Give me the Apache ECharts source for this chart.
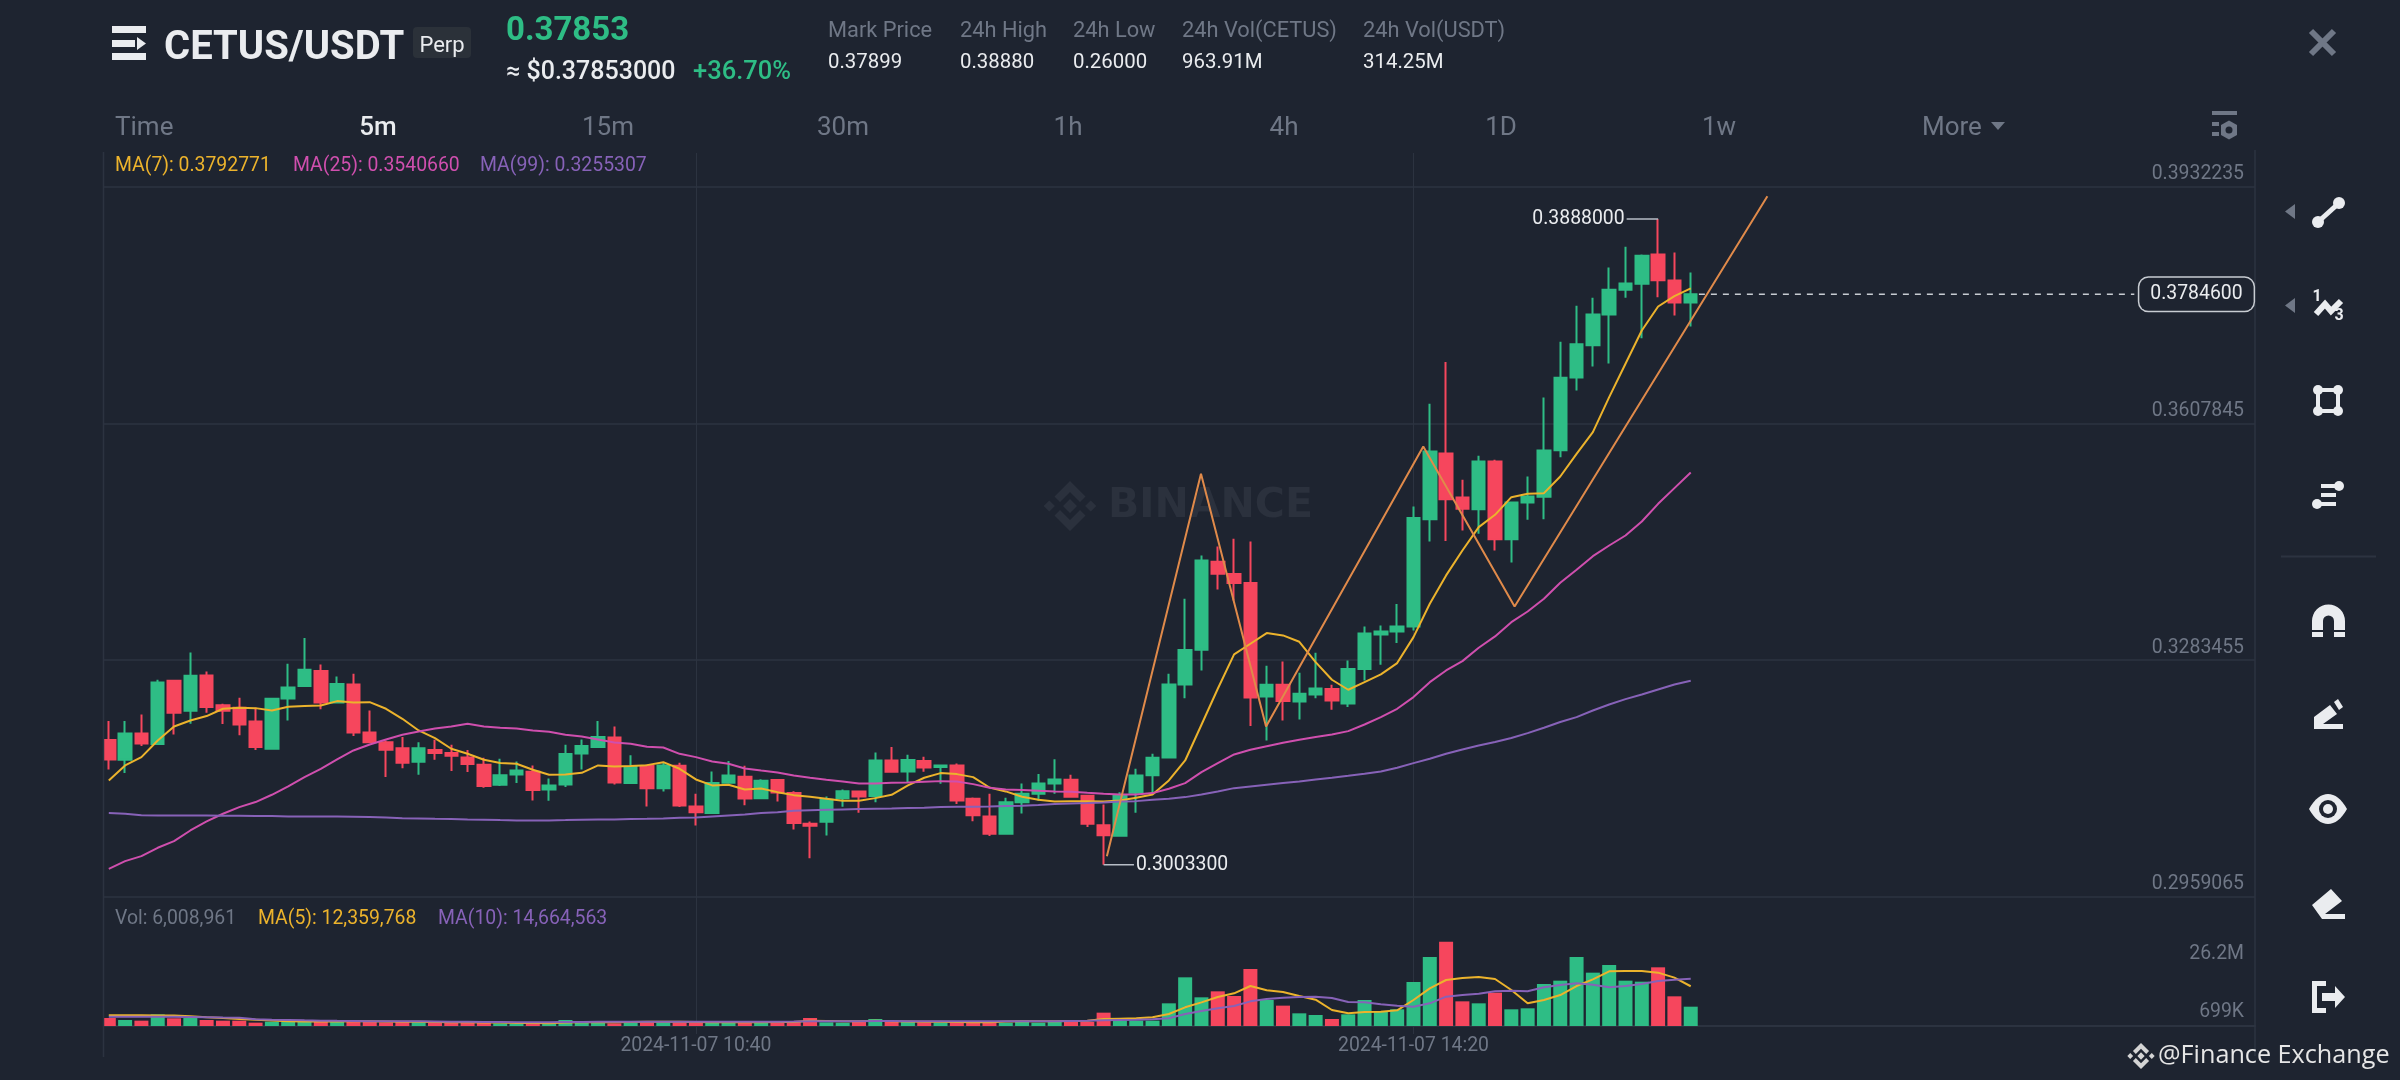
<!DOCTYPE html>
<html>
<head>
<meta charset="utf-8">
<style>html,body{margin:0;padding:0;background:#1e2430}#chart{width:2400px;height:1080px}</style>
<script src="https://cdn.jsdelivr.net/npm/echarts@6/dist/echarts.min.js"></script>
</head>
<body>
<div id="chart"></div>
<script>
const opens = [
  .31740,.31470,.31831,.31685,.32553,.32142,.32626,.32219,.32183,.31996,
  .31621,.32311,.32480,.32685,.32256,.32502,.31845,.31712,.31630,.31443,
  .31603,.31562,.31502,.31402,.31128,.31270,.31306,.31064,.31133,.31557,
  .31644,.31776,.31151,.31384,.31082,.31388,.30831,.30740,.31155,.31237,
  .30945,.31192,.31014,.30594,.30621,.30945,.31037,.30973,.31461,.31310,
  .31452,.31370,.31393,.30936,.30694,.30457,.30890,.31005,.31146,.31196,
  .30977,.30575,.30429,.31018,.31260,.31502,.32503,.32978,.34183,.34014,
  .33891,.32338,.32498,.32270,.32366,.32439,.32242,.32713,.33188,.33229,
  .33297,.34767,.35666,.35064,.34904,.35557,.34493,.34995,.35073,.35712,
  .36707,.37150,.37570,.37908,.37991,.38392,.38036,.37735
];
const closes = [
  .31475,.31831,.31694,.32530,.32114,.32621,.32192,.32142,.31954,.31644,
  .32306,.32461,.32703,.32256,.32507,.31845,.31712,.31607,.31429,.31630,
  .31562,.31525,.31411,.31110,.31260,.31324,.31055,.31119,.31548,.31658,
  .31781,.31160,.31374,.31082,.31393,.30845,.30753,.31151,.31256,.30941,
  .31183,.31023,.30603,.30566,.30922,.31041,.30968,.31461,.31306,.31466,
  .31365,.31393,.30913,.30712,.30457,.30890,.31005,.31146,.31201,.30963,
  .30594,.30438,.30977,.31256,.31498,.32502,.32973,.34201,.34019,.33891,
  .32325,.32498,.32274,.32375,.32448,.32284,.32713,.33201,.33229,.33297,
  .34781,.35694,.35041,.34908,.35557,.34493,.34995,.35077,.35708,.36703,
  .37164,.37570,.37908,.37995,.38374,.38041,.37735,.37846
];
const lows = [
  .31338,.31288,.31658,.31680,.31817,.31964,.32114,.31959,.31808,.31603,
  .31621,.32009,.32466,.32164,.32256,.31795,.31712,.31233,.31356,.31265,
  .31470,.31315,.31302,.31087,.31110,.31151,.30913,.30909,.31096,.31338,
  .31644,.31132,.31151,.30831,.31037,.30822,.30571,.30740,.31151,.30849,
  .30936,.30900,.30516,.30123,.30434,.30826,.30744,.30890,.31306,.31164,
  .31306,.31142,.30863,.30630,.30425,.30457,.30735,.30909,.31005,.30950,
  .30548,.30033,.30429,.30744,.31005,.31502,.32315,.32694,.33804,.33653,
  .31932,.31736,.32010,.32023,.32315,.32156,.32192,.32557,.32772,.33069,
  .33242,.34461,.34466,.34612,.34566,.34338,.34173,.34758,.34767,.35616,
  .36529,.36858,.36899,.37799,.37246,.37808,.37557,.37406
];
const highs = [
  .32000,.32000,.32091,.32566,.32566,.32941,.32680,.32238,.32320,.32183,
  .32320,.32785,.33137,.32776,.32612,.32648,.32146,.31735,.31781,.31712,
  .31744,.31676,.31603,.31498,.31484,.31448,.31393,.31215,.31676,.31749,
  .32000,.31927,.31534,.31406,.31438,.31429,.31005,.31310,.31452,.31388,
  .31205,.31196,.31041,.30626,.30968,.31064,.31041,.31571,.31644,.31539,
  .31511,.31393,.31420,.30954,.31005,.30950,.31146,.31274,.31479,.31265,
  .30982,.30858,.31027,.31347,.31552,.32649,.33676,.34270,.34393,.34498,
  .34462,.32758,.32818,.32662,.32936,.32498,.32831,.33297,.33311,.33603,
  .34941,.36347,.36918,.35306,.35634,.35580,.34995,.35351,.36434,.37196,
  .37689,.37799,.38214,.38497,.38392,.38880,.38420,.38146
];
const ma7 = [
  .31187,.31393,.31507,.31735,.31927,.32009,.32069,.32169,.32183,.32178,
  .32146,.32196,.32206,.32215,.32274,.32256,.32260,.32169,.32032,.31872,
  .31767,.31621,.31553,.31470,.31425,.31416,.31333,.31265,.31270,.31292,
  .31393,.31379,.31384,.31397,.31438,.31347,.31201,.31119,.31128,.31064,
  .31078,.31027,.30986,.30964,.30936,.30909,.30909,.30945,.30991,.31119,
  .31224,.31288,.31274,.31233,.31091,.31037,.30964,.30922,.30899,.30904,
  .30904,.30899,.30913,.30950,.30995,.31187,.31461,.31950,.32443,.32914,
  .33060,.33206,.33174,.33087,.32809,.32567,.32430,.32535,.32640,.32795,
  .33151,.33608,.33996,.34338,.34657,.34826,.35068,.35114,.35123,.35351,
  .35662,.35959,.36438,.36895,.37351,.37680,.37822,.37928
];
const ma25 = [
  .29977,.30082,.30151,.30265,.30356,.30502,.30626,.30731,.30822,.30891,
  .30991,.31105,.31233,.31347,.31475,.31598,.31680,.31749,.31813,.31859,
  .31900,.31927,.31964,.31927,.31909,.31900,.31872,.31854,.31813,.31790,
  .31749,.31708,.31689,.31648,.31639,.31552,.31507,.31447,.31415,.31352,
  .31324,.31297,.31256,.31224,.31196,.31173,.31146,.31146,.31155,.31160,
  .31169,.31178,.31173,.31137,.31087,.31064,.31055,.31046,.31037,.31032,
  .31018,.31005,.30995,.30995,.31014,.31073,.31151,.31301,.31425,.31543,
  .31607,.31657,.31703,.31744,.31781,.31817,.31863,.31954,.32055,.32169,
  .32329,.32534,.32694,.32822,.33005,.33160,.33356,.33502,.33676,.33895,
  .34073,.34260,.34406,.34543,.34735,.34977,.35192,.35406
];
const ma99 = [
  .30740,.30731,.30712,.30708,.30708,.30708,.30708,.30703,.30703,.30699,
  .30699,.30694,.30694,.30694,.30694,.30690,.30685,.30680,.30671,.30667,
  .30662,.30658,.30653,.30649,.30644,.30640,.30640,.30640,.30644,.30649,
  .30653,.30653,.30658,.30662,.30667,.30676,.30680,.30694,.30708,.30722,
  .30740,.30753,.30772,.30780,.30785,.30790,.30795,.30800,.30804,.30809,
  .30813,.30822,.30826,.30828,.30831,.30836,.30840,.30850,.30863,.30870,
  .30877,.30886,.30899,.30904,.30922,.30936,.30959,.30995,.31037,.31082,
  .31105,.31128,.31151,.31173,.31201,.31224,.31251,.31279,.31310,.31361,
  .31425,.31484,.31553,.31612,.31667,.31713,.31768,.31835,.31910,.31987,
  .32055,.32146,.32228,.32301,.32365,.32434,.32502,.32553
];
// volume in millions
const volumes = [
  2.49,1.87,1.66,3.63,2.39,2.49,1.87,1.66,1.66,1.04,
  1.35,1.35,1.35,1.45,1.45,1.45,1.45,1.14,1.35,1.24,
  1.14,1.14,1.04,1.04,.83,.73,.83,.73,1.87,1.35,
  1.24,.83,1.35,1.45,1.24,1.24,1.24,1.04,1.04,1.24,
  1.45,1.35,1.24,2.49,1.14,1.04,1.24,2.18,1.35,1.24,
  1.14,1.14,1.24,1.24,1.24,1.04,1.66,1.04,1.24,1.24,
  1.24,4.15,1.66,1.66,1.66,7.05,15.14,8.92,10.78,9.33,
  17.73,8.09,6.33,3.94,3.42,2.18,3.63,8.09,4.46,5.19,
  13.69,21.47,26.2,7.67,7.05,10.37,5.19,5.50,13.07,14.10,
  21.47,16.59,18.98,14.10,13.79,18.25,9.23,6.008961
];
const volMa5 = [
  3.32,3.32,3.32,3.30,3.25,3.00,2.70,2.45,2.20,1.95,
  1.70,1.50,1.40,1.40,1.40,1.45,1.45,1.40,1.35,1.30,
  1.25,1.20,1.15,1.10,1.05,.95,.90,.85,1.05,1.15,
  1.20,1.20,1.25,1.30,1.30,1.30,1.25,1.20,1.15,1.15,
  1.20,1.25,1.25,1.60,1.55,1.50,1.50,1.60,1.45,1.40,
  1.35,1.30,1.25,1.20,1.15,1.40,1.45,1.50,1.50,1.55,
  1.60,2.18,2.28,2.39,2.70,3.73,5.81,7.36,9.02,10.16,
  12.44,11.10,10.58,9.33,8.19,4.98,3.94,4.36,4.46,4.87,
  8.09,11.72,14.31,14.93,15.24,14.62,11.20,7.05,8.09,9.64,
  12.44,14.52,17.01,17.11,17.11,16.59,15.04,12.359768
];
const volMa10 = [
  2.90,2.90,2.90,2.90,2.85,2.80,2.75,2.65,2.60,2.10,
  1.95,1.85,1.75,1.66,1.60,1.55,1.50,1.50,1.45,1.45,
  1.40,1.35,1.30,1.25,1.24,1.20,1.20,1.20,1.25,1.25,
  1.30,1.30,1.30,1.30,1.30,1.30,1.30,1.30,1.30,1.30,
  1.35,1.35,1.40,1.50,1.50,1.50,1.50,1.55,1.55,1.50,
  1.50,1.50,1.45,1.45,1.45,1.50,1.50,1.50,1.50,1.55,
  1.60,1.75,1.85,1.95,2.10,2.39,3.73,4.67,5.50,6.22,
  7.67,8.40,8.81,9.02,9.13,8.71,7.47,7.36,6.74,6.33,
  6.01,7.05,9.13,9.64,10.06,10.78,10.99,10.78,12.03,12.76,
  13.27,12.86,12.03,12.44,13.07,14.00,14.41,14.664563
];
const priceTicks = [0.2959065, 0.3283455, 0.3607845, 0.3932235];
const volTicks = [0.699, 26.2];
const timeTicks = [36, 80];
const timeLabels = ['2024-11-07 10:40', '2024-11-07 14:20'];
// hand drawn zigzag and channel line, [candle index, price]
const drawnLine = [[61.2,.30150],[66.97,.35388],[70.96,.31927],[80.6,.35762],[86.2,.33571],[101.7,.39191]];
const lastPrice = 0.37846;
const highPoint = [95, 0.3888];
const lowPoint = [61, 0.30033];

const BG = '#1e2430', UP = '#2ebd85', DOWN = '#f6465d', GRID = '#2c3340', GRAY = '#6f7786';
const MA1 = '#ecb32c', MA2 = '#cf4fae', MA3 = '#8762b8', ORANGE = '#e08a4a', WHITE = '#eaecef';
const FONT = 'Roboto';
const TICK_SIZE = 19.4;

const chart = echarts.init(document.getElementById('chart'));

function indexed(values) {
  return values.map((v, i) => [i, v]);
}

function maLine(name, values, color, grid) {
  return {
    name, type: 'line', data: indexed(values), xAxisIndex: grid, yAxisIndex: grid,
    showSymbol: false, silent: true, z: 4,
    lineStyle: {color, width: 2}
  };
}

// horizontal leader from a wick tip, with the price at its far end
function leader(name, from, toIndex, position) {
  return {
    name, type: 'line', showSymbol: true, symbol: 'circle', symbolSize: 0.01, silent: true, z: 5,
    itemStyle: {color: '#b7bdc6'},
    lineStyle: {color: '#b7bdc6', width: 1.5},
    data: [
      {value: from},
      {
        value: [toIndex, from[1]],
        label: {
          show: true, position, distance: 2, color: WHITE, fontFamily: FONT, fontSize: TICK_SIZE,
          formatter: () => from[1].toFixed(7)
        }
      }
    ]
  };
}

function text(str, x, y, fill, size, weight, align) {
  return {
    type: 'text', silent: true,
    style: {
      text: str, x, y, fill, align: align || 'left', verticalAlign: 'middle',
      font: (weight || 400) + ' ' + size + 'px ' + FONT
    }
  };
}

// the graphic component has no path element, so each svg path gets its own shape class
let pathCount = 0;
function pathType(d) {
  const name = 'iconPath' + pathCount++;
  echarts.graphic.registerShape(name, echarts.graphic.extendPath(d));
  return name;
}

function fillPath(d, fill) {
  return {type: pathType(d), silent: true, style: {fill}};
}

function strokePath(d, stroke, width) {
  return {type: pathType(d), silent: true, style: {fill: 'none', stroke, lineWidth: width}};
}

function dot(cx, cy, r, fill) {
  return {type: 'circle', silent: true, shape: {cx, cy, r}, style: {fill}};
}

function diamond(cx, cy, r) {
  return `M${cx - r},${cy}L${cx},${cy - r}L${cx + r},${cy}L${cx},${cy + r}Z`;
}

function logo(cx, cy, s, fill) {
  const a = s * 0.28, g = s * 0.36;
  const chevron = (dir) =>
    `M${cx - s * 0.62},${cy + dir * s * 0.38}L${cx},${cy + dir * s}L${cx + s * 0.62},${cy + dir * s * 0.38}` +
    `L${cx + s * 0.4},${cy + dir * s * 0.16}L${cx},${cy + dir * s * 0.56}L${cx - s * 0.4},${cy + dir * s * 0.16}Z`;
  return fillPath(
    diamond(cx, cy, a) + diamond(cx - g * 2.3, cy, a * 0.8) + diamond(cx + g * 2.3, cy, a * 0.8) +
    chevron(-1) + chevron(1), fill);
}

const stats = [
  ['Mark Price', '0.37899', 828], ['24h High', '0.38880', 960], ['24h Low', '0.26000', 1073],
  ['24h Vol(CETUS)', '963.91M', 1182], ['24h Vol(USDT)', '314.25M', 1363]
];
const tabs = [['15m', 608], ['30m', 843], ['1h', 1068], ['4h', 1284], ['1D', 1501], ['1w', 1719]];

const decor = [
  // first candle and bar are cut off at the left edge of the plot
  {type: 'rect', silent: true, z: 10, shape: {x: 90, y: 153, width: 13, height: 873}, style: {fill: BG}},
  // frame
  Object.assign(strokePath('M103.5,152V1057', GRID, 1.5), {z: 11}),
  strokePath('M2255,150V1056', GRID, 1.5),
  // watermark
  logo(1070, 506, 25, '#2b313d'),
  {
    type: 'text', silent: true,
    style: {text: 'BINANCE', x: 1108, y: 506, fill: '#2b313d', verticalAlign: 'middle',
      font: '700 41px "DejaVu Sans"'}
  },
  // header
  fillPath('M112,26H146V33H112ZM112,40H135V47H112ZM137,37L146,43.5L137,50ZM112,53H146V60H112Z', WHITE),
  text('CETUS/USDT', 164, 49, WHITE, 40, 700),
  {type: 'rect', silent: true, shape: {x: 413, y: 27, width: 58, height: 31, r: 4}, style: {fill: '#2b3139'}},
  text('Perp', 442, 46, WHITE, 22, 400, 'center'),
  text('0.37853', 506, 32, UP, 33, 700),
  text('≈ $0.37853000', 506, 72.5, WHITE, 25, 500),
  text('+36.70%', 693, 72.5, UP, 25.5, 500)
];
stats.forEach(([label, value, x]) => {
  decor.push(text(label, x, 32, GRAY, 21.8));
  decor.push(text(value, x, 62.5, WHITE, 20.4));
});
decor.push(text('Time', 115, 128, GRAY, 26));
decor.push(text('5m', 378, 128, WHITE, 26, 500, 'center'));
tabs.forEach(([label, x]) => decor.push(text(label, x, 128, GRAY, 26, 400, 'center')));
decor.push(text('More', 1922, 128, GRAY, 26));
decor.push(fillPath('M1991,122H2005L1998,130Z', GRAY));
// settings icon
decor.push(fillPath('M2212,111H2237V115H2212ZM2212,122H2219V126H2212ZM2212,132H2219V136H2212Z', GRAY));
decor.push(fillPath('M2229,120.5L2237,125V135L2229,139.5L2221,135V125Z', GRAY));
decor.push(dot(2229, 130, 3.5, BG));
// legends
decor.push(text('MA(7): 0.3792771', 115, 166.5, MA1, TICK_SIZE));
decor.push(text('MA(25): 0.3540660', 293, 166.5, MA2, TICK_SIZE));
decor.push(text('MA(99): 0.3255307', 480, 166.5, MA3, TICK_SIZE));
decor.push(text('Vol: 6,008,961', 115, 919.5, GRAY, TICK_SIZE));
decor.push(text('MA(5): 12,359,768', 258, 919.5, MA1, TICK_SIZE));
decor.push(text('MA(10): 14,664,563', 438, 919.5, MA3, TICK_SIZE));
// toolbar
decor.push(
  strokePath('M2311,31L2334,54M2334,31L2311,54', GRAY, 6),
  fillPath('M2295,204V219L2285,211.5Z', GRAY),
  fillPath('M2295,298V313L2285,305.5Z', GRAY),
  strokePath('M2318,222L2339,203', WHITE, 5), dot(2318, 222, 6, WHITE), dot(2339, 203, 6, WHITE),
  strokePath('M2316,314L2325,304L2331,311L2341,301', WHITE, 6),
  text('1', 2317, 297, WHITE, 16, 700, 'center'), text('3', 2339, 316, WHITE, 16, 700, 'center'),
  strokePath('M2318,390H2338V411H2318Z', WHITE, 4),
  dot(2318, 390, 5, WHITE), dot(2338, 390, 5, WHITE), dot(2318, 411, 5, WHITE), dot(2338, 411, 5, WHITE),
  fillPath('M2321,484H2339V488H2321ZM2321,493H2336V497H2321ZM2317,502H2336V506H2317Z', WHITE),
  dot(2339, 486, 5, WHITE), dot(2317, 504, 5, WHITE),
  strokePath('M2281,556.5H2376', GRID, 2),
  fillPath('M2312,630V621A16.5,16.5 0 0 1 2345,621V630H2334V621A5.5,5.5 0 0 0 2323,621V630Z', WHITE),
  fillPath('M2312,632H2323V637H2312ZM2334,632H2345V637H2334Z', WHITE),
  fillPath('M2314,729V717L2330,705L2337,714L2323,724H2343V729Z', WHITE),
  fillPath('M2334,702L2338,699L2343,707L2339,710Z', WHITE),
  fillPath('M2309,809C2320,789 2336,789 2347,809C2336,829 2320,829 2309,809Z', WHITE),
  dot(2328, 809, 9, BG), dot(2328, 809, 5, WHITE),
  fillPath('M2312,905L2331,889L2342,901L2325,914H2345V919H2322Z', WHITE),
  strokePath('M2326,983.5H2314.5V1010.5H2326', WHITE, 5),
  fillPath('M2322,993H2335V986L2345,997L2335,1008V1001H2322Z', WHITE),
  // footer watermark
  logo(2141, 1056, 13, '#d4d4d4'),
  {
    type: 'text', silent: true,
    style: {text: '@Finance Exchange', x: 2158, y: 1056, fill: '#e6e6e6', verticalAlign: 'middle',
      font: '400 25.2px "Open Sans"'}
  }
);

chart.setOption({
  animation: false,
  backgroundColor: BG,
  graphic: {elements: decor},
  grid: [
    {left: 103.6, right: 145, top: 153, height: 744},
    {left: 103.6, right: 145, top: 897, height: 129}
  ],
  xAxis: [
    {
      type: 'value', gridIndex: 0, min: -0.319, max: 131.6,
      axisLine: {show: false}, axisLabel: {show: false},
      axisTick: {show: false, customValues: timeTicks},
      splitLine: {show: true, lineStyle: {color: GRID, width: 1}}
    },
    {
      type: 'value', gridIndex: 1, min: -0.319, max: 131.6,
      axisLine: {show: true, onZero: false, lineStyle: {color: GRID, width: 2}},
      axisTick: {show: true, length: 8, customValues: timeTicks, lineStyle: {color: GRID}},
      axisLabel: {
        customValues: timeTicks, margin: 11, color: GRAY, fontFamily: FONT, fontSize: TICK_SIZE,
        formatter: v => timeLabels[timeTicks.indexOf(v)]
      },
      splitLine: {show: true, lineStyle: {color: GRID, width: 1}}
    }
  ],
  yAxis: [
    {
      type: 'value', gridIndex: 0, position: 'right',
      min: priceTicks[0], max: 0.3978262,
      axisLine: {show: false},
      axisTick: {show: false, customValues: priceTicks},
      axisLabel: {
        customValues: priceTicks, inside: true, margin: 11, color: GRAY, fontFamily: FONT, fontSize: TICK_SIZE,
        verticalAlign: 'bottom', padding: [0, 0, 3, 0],
        formatter: v => v.toFixed(7)
      },
      splitLine: {show: true, lineStyle: {color: GRID, width: 1.5}}
    },
    {
      type: 'value', gridIndex: 1, position: 'right', min: 0, max: 40.12,
      axisLine: {show: false},
      axisTick: {show: false, customValues: volTicks},
      splitLine: {show: false},
      axisLabel: {
        customValues: volTicks, inside: true, margin: 11, color: GRAY, fontFamily: FONT, fontSize: TICK_SIZE,
        formatter: v => (v > 1 ? '{hi|26.2M}' : '{lo|699K}'),
        rich: {
          hi: {padding: [24, 0, 0, 0], color: GRAY, fontFamily: FONT, fontSize: TICK_SIZE},
          lo: {padding: [0, 0, 23, 0], color: GRAY, fontFamily: FONT, fontSize: TICK_SIZE}
        }
      }
    }
  ],
  series: [
    {
      name: 'kline', type: 'candlestick', xAxisIndex: 0, yAxisIndex: 0, barWidth: 13, silent: true, z: 2,
      clip: true,
      encode: {x: 0, y: [1, 2, 3, 4]},
      data: opens.map((o, i) => [i, o, closes[i], lows[i], highs[i]]),
      itemStyle: {color: UP, color0: DOWN, borderColor: UP, borderColor0: DOWN, borderWidth: 2}
    },
    maLine('MA(7)', ma7, MA1, 0),
    maLine('MA(25)', ma25, MA2, 0),
    maLine('MA(99)', ma99, MA3, 0),
    {
      name: 'drawing', type: 'line', data: drawnLine, showSymbol: false, silent: true, z: 5,
      lineStyle: {color: ORANGE, width: 2}
    },
    leader('high', highPoint, 93.07, 'left'),
    leader('low', lowPoint, 62.86, 'right'),
    {
      name: 'last', type: 'line', data: [[97.5, lastPrice], [124.2, lastPrice]],
      showSymbol: false, silent: true, z: 5,
      lineStyle: {color: '#c8ccd2', width: 1.5, type: [6, 6]},
      endLabel: {
        show: true, position: 'right', distance: 5, color: WHITE, fontFamily: FONT, fontSize: TICK_SIZE,
        backgroundColor: BG, borderColor: '#c8ccd2', borderWidth: 1.5, borderRadius: 9, padding: [7, 11],
        formatter: () => '0.3784600'
      }
    },
    {
      name: 'Vol', type: 'bar', xAxisIndex: 1, yAxisIndex: 1, barWidth: 14, silent: true, z: 2,
      clip: true,
      data: volumes.map((v, i) => ({
        value: [i, v],
        itemStyle: {color: closes[i] >= opens[i] ? UP : DOWN}
      }))
    },
    maLine('MA(5)', volMa5, MA1, 1),
    maLine('MA(10)', volMa10, MA3, 1)
  ]
});
</script>
</body>
</html>
